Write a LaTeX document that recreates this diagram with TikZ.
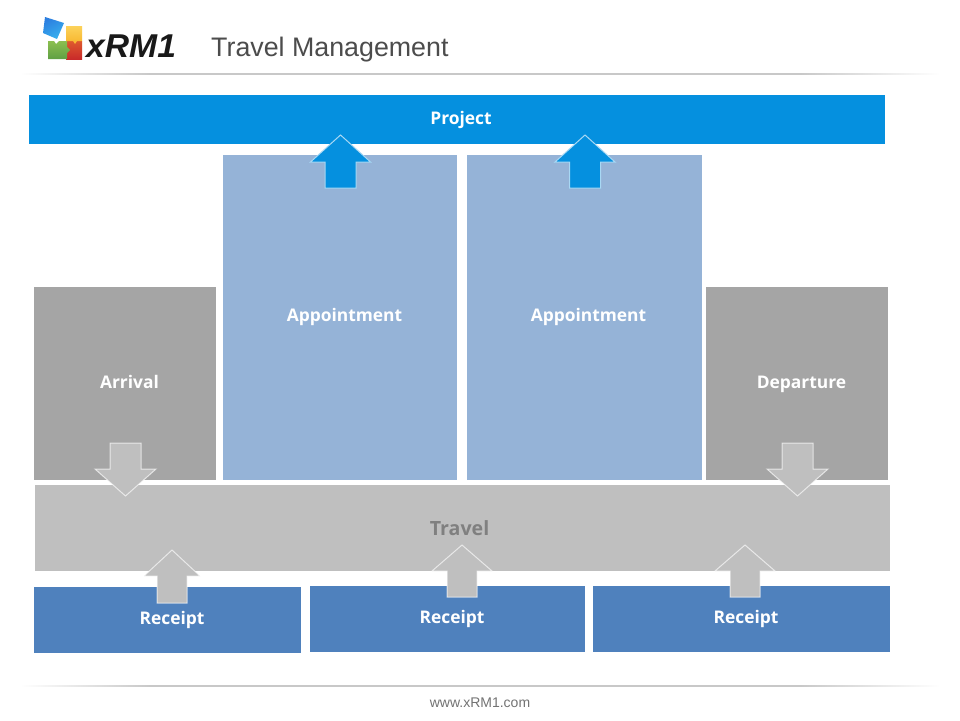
\documentclass[tikz,border=0pt]{standalone}
\usepackage{fontspec}
\setmainfont{Open Sans}
\newfontfamily\titlefont{Liberation Sans}
\definecolor{projblue}{HTML}{0590DF}
\definecolor{apptblue}{HTML}{95B3D7}
\definecolor{midgray}{HTML}{A5A5A5}
\definecolor{lightgray2}{HTML}{BFBFBF}
\definecolor{recblue}{HTML}{4F81BD}
\definecolor{rulegray}{HTML}{C8C8C8}
\definecolor{logogreenA}{HTML}{8CBF50}
\definecolor{logogreenB}{HTML}{5FA044}
\definecolor{logoredA}{HTML}{DE5A2E}
\definecolor{logoredB}{HTML}{C92A2A}
\definecolor{logoyelA}{HTML}{FCD25A}
\definecolor{logoyelB}{HTML}{F7B52C}
\definecolor{logoblueA}{HTML}{2C7FE0}
\definecolor{logoblueB}{HTML}{38B0EE}
\tikzset{
  box/.style={fill=#1,draw=none},
  lbl/.style={text=white,font=\bfseries\fontsize{17.4}{20}\selectfont,inner sep=0pt,anchor=base},
  blockblue/.style={fill=projblue,draw=white!65!projblue,line width=1pt,line join=miter},
  blockgray/.style={fill=lightgray2,draw=white,draw opacity=0.65,line width=1pt,line join=miter},
  rulein/.style={draw=none,left color=white,right color=rulegray},
  ruleout/.style={draw=none,left color=rulegray,right color=white},
  rulemid/.style={draw=none,fill=rulegray}
}
\newcommand{\uparr}[7]{% style, tipx, tipy, half wing, half shaft, wing y, bottom y
  \path[#1] (#2,#3) -- (#2+#4,#6) -- (#2+#5,#6) -- (#2+#5,#7) -- (#2-#5,#7) -- (#2-#5,#6) -- (#2-#4,#6) -- cycle;}
\newcommand{\sepline}[1]{%
  \path[rulein] (20,#1) rectangle (150,#1+1.5);
  \path[rulemid] (150,#1) rectangle (800,#1+1.5);
  \path[ruleout] (800,#1) rectangle (940,#1+1.5);}
\begin{document}
\begin{tikzpicture}[x=1pt,y=-1pt]
\useasboundingbox (0,0) rectangle (960,720);
\fill[white] (0,0) rectangle (960,720);
% logo
\path[top color=logoredA,bottom color=logoredB] (66,41) -- (82,41) -- (82,59) -- (66,59) -- cycle;
\path[top color=logogreenA,bottom color=logogreenB] (48,41) -- (54,41) -- (56,44) -- (59,41) -- (67,41) -- (67,47) -- (70,50) -- (67,53) -- (67,59) -- (48,59) -- cycle;
\path[top color=logoyelA,bottom color=logoyelB] (66,26) -- (82,26) -- (82,41) -- (77,41) -- (75,44) -- (73,41) -- (66,41) -- cycle;
\path[left color=logoblueA,right color=logoblueB,shading angle=30] (45,17) -- (64,23) -- (57,39) -- (43,33) -- cycle;
\node[anchor=west,inner sep=0pt,text=black!90,font=\titlefont\bfseries\itshape\fontsize{33}{35}\selectfont,xscale=1.02] (logo) at (86,46) {xRM1};
\node[anchor=base west,inner sep=0pt,text=black!70,font=\titlefont\fontsize{26.8}{30}\selectfont] (title) at (211,56) {Travel Management};
% rules
\sepline{73}
\sepline{685}
% boxes
\path[box=projblue] (29,95) rectangle (885,144);
\path[box=apptblue] (223,155) rectangle (457,480);
\path[box=apptblue] (467,155) rectangle (702,480);
\path[box=midgray] (34,287) rectangle (216,480);
\path[box=midgray] (706,287) rectangle (888,480);
\path[box=lightgray2] (35,485) rectangle (890,571);
\path[box=recblue] (34,587) rectangle (301,653);
\path[box=recblue] (310,586) rectangle (585,652);
\path[box=recblue] (593,586) rectangle (890,652);
% arrows
\uparr{blockblue}{340.5}{135}{30}{15.5}{162}{188}
\uparr{blockblue}{585}{135}{30}{15.5}{162}{188}
\uparr{blockgray}{125.5}{496}{30.5}{15.5}{469}{443}
\uparr{blockgray}{797.5}{496}{30.5}{15.5}{469}{443}
\uparr{blockgray}{172}{550}{28}{15}{576}{603}
\uparr{blockgray}{462}{545}{30}{15}{571}{597}
\uparr{blockgray}{745}{545}{30}{15}{571}{597}
% labels
\node[lbl] (project) at (461,124.5) {Project};
\node[lbl] (appt1) at (344.5,321.5) {Appointment};
\node[lbl] (appt2) at (588.5,321.5) {Appointment};
\node[lbl] (arrival) at (129.5,388) {Arrival};
\node[lbl] (departure) at (801.5,388) {Departure};
\node[lbl,text=black!50,font=\bfseries\fontsize{19.6}{22}\selectfont] (travel) at (459.5,535) {Travel};
\node[lbl] (rec1) at (172,624) {Receipt};
\node[lbl] (rec2) at (452,623) {Receipt};
\node[lbl] (rec3) at (746,623) {Receipt};
\node[anchor=base,inner sep=0pt,text=black!55,font=\titlefont\fontsize{14}{16}\selectfont] (url) at (480,707) {www.xRM1.com};
\end{tikzpicture}
\end{document}
